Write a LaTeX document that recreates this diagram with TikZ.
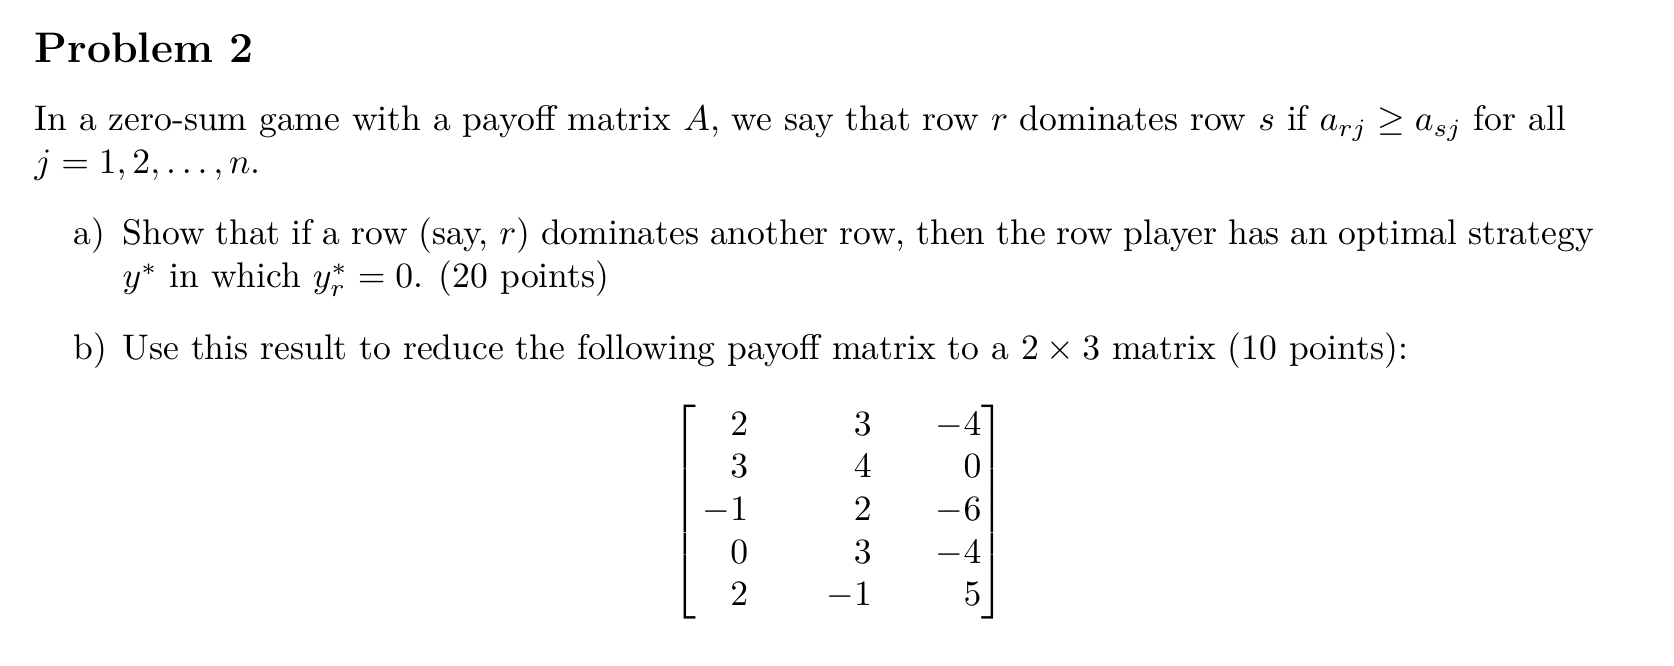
\documentclass[tikz,border=0pt]{standalone}
\usepackage{amsmath}
\begin{document}
\begin{tikzpicture}[x=0.281pt,y=-0.281pt,txt/.style={anchor=base west,inner sep=0pt}]
\useasboundingbox (0,0) rectangle (1674,666);
\node[txt,font=\large\bfseries] (t) at (34,63) {Problem 2};
\node[txt] (p1) at (34,131) {In a zero-sum game with a payoff matrix $A$, we say that row $r$ dominates row $s$ if $a_{rj}\geq a_{sj}$ for all};
\node[txt] (p2) at (34,174) {$j=1,2,\ldots,n$.};
\node[txt] (a1) at (73,245) {a)};
\node[txt] (a1b) at (122,245) {\spaceskip=3.0pt plus 1pt minus 1pt Show that if a row (say, $r$) dominates another row, then the row player has an optimal strategy};
\node[txt] (a2) at (122,288) {$y^*$ in which $y^*_r=0$. (20 points)};
\node[txt] (b1) at (73,360) {b)};
\node[txt] (b1b) at (122,360) {Use this result to reduce the following payoff matrix to a $2\times3$ matrix (10 points):};
\node[inner sep=0pt] (m) at (839,512) {$\left[\begin{array}{@{\,}r@{\hspace{22pt}}r@{\hspace{18pt}}r@{}}2 & 3 & -4\\ 3 & 4 & 0\\ -1 & 2 & -6\\ 0 & 3 & -4\\ 2 & -1 & 5\end{array}\right]$};
\end{tikzpicture}
\end{document}
